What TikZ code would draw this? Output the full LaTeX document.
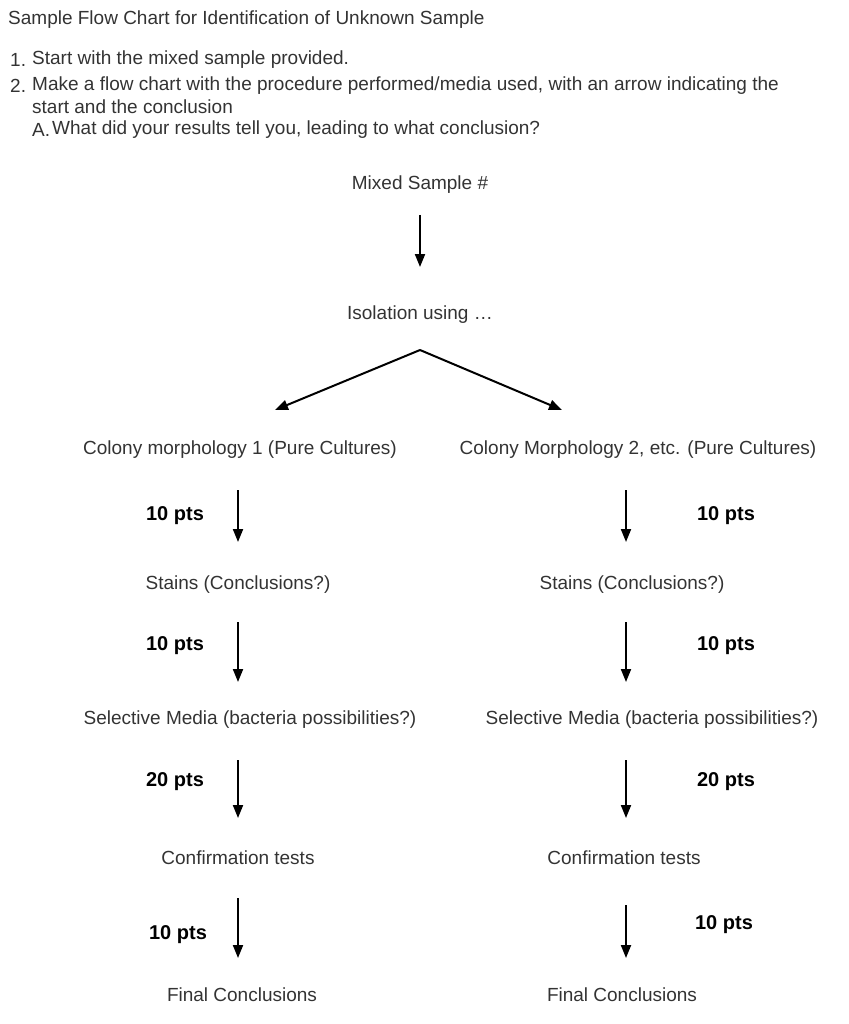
\documentclass[tikz,border=0pt]{standalone}
\usepackage{fontspec}
\setmainfont{Liberation Sans}
\usetikzlibrary{arrows.meta}
\begin{document}
\begin{tikzpicture}[x=1pt,y=-1pt,
  txt/.style={font=\fontsize{19}{22}\selectfont, text=black!80, inner sep=0pt},
  pts/.style={font=\bfseries\fontsize{20}{23}\selectfont, inner sep=0pt},
  arr/.style={-{Triangle[length=13pt,width=10pt]}, line width=2pt}]
\useasboundingbox (0,0) rectangle (848,1024);
\node[txt,anchor=west] (title) at (8,20) {Sample Flow Chart for Identification of Unknown Sample};
\node[txt,anchor=west] (n1) at (10,60) {1.};
\node[txt,anchor=west] (t1) at (32,60) {Start with the mixed sample provided.};
\node[txt,anchor=west] (n2) at (10,86) {2.};
\node[txt,anchor=west] (t2) at (32,86) {Make a flow chart with the procedure performed/media used, with an arrow indicating the};
\node[txt,anchor=west] (t2b) at (32,107) {start and the conclusion};
\node[txt,anchor=west] (nA) at (32,130) {A.};
\node[txt,anchor=west] (tA) at (52,130) {What did your results tell you, leading to what conclusion?};
\node[txt] (mix) at (420,185) {Mixed Sample \#};
\coordinate (m1) at (420,215); \coordinate (m2) at (420,267);
\draw[arr] (m1) -- (m2);
\node[txt] (iso) at (420,315) {Isolation using \dots};
\coordinate (top) at (420,350);
\coordinate (bl) at (275,410); \coordinate (br) at (562,410);
\draw[arr] (top) -- (bl);
\draw[arr] (top) -- (br);
\node[txt] (cl) at (240,450) {Colony morphology 1 (Pure Cultures)};
\node[txt] (cr) at (638,450) {Colony Morphology 2, etc. (Pure Cultures)};
\node[txt] (sl) at (238,585) {Stains (Conclusions?)};
\node[txt] (sr) at (632,585) {Stains (Conclusions?)};
\node[txt] (ml) at (250,720) {Selective Media (bacteria possibilities?)};
\node[txt] (mr) at (652,720) {Selective Media (bacteria possibilities?)};
\node[txt] (fl) at (238,858) {Confirmation tests};
\node[txt] (fr) at (624,858) {Confirmation tests};
\node[txt] (el) at (242,995) {Final Conclusions};
\node[txt] (er) at (622,995) {Final Conclusions};
\foreach \name/\x/\a/\b in {a1/238/490/542, a2/238/622/682, a3/238/760/818, a4/238/898/958,
   b1/626/490/542, b2/626/622/682, b3/626/760/818, b4/626/905/958}{
  \coordinate (\name s) at (\x,\a); \coordinate (\name e) at (\x,\b);
  \draw[arr] (\name s) -- (\name e);
}
\node[pts] (p1) at (175,516) {10 pts};
\node[pts] (p2) at (175,646) {10 pts};
\node[pts] (p3) at (175,782) {20 pts};
\node[pts] (p4) at (178,935) {10 pts};
\node[pts] (q1) at (726,516) {10 pts};
\node[pts] (q2) at (726,646) {10 pts};
\node[pts] (q3) at (726,782) {20 pts};
\node[pts] (q4) at (724,925) {10 pts};
\end{tikzpicture}
\end{document}
